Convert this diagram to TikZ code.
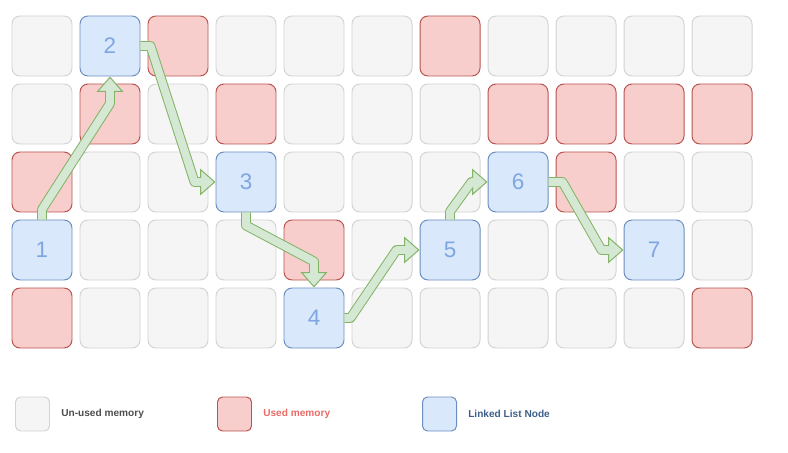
\documentclass[tikz,border=0pt]{standalone}
\usepackage{fontspec}
\setmainfont{Liberation Sans}
\def\cellsep{1.7}
\usepackage{tikz}
\usetikzlibrary{arrows.meta}
\usetikzlibrary{calc}
\usetikzlibrary{positioning}
\definecolor{freefill}{HTML}{F5F5F5}
\definecolor{freeline}{HTML}{D3D3D3}
\definecolor{usedfill}{HTML}{F8CECC}
\definecolor{usedline}{HTML}{B85450}
\definecolor{nodefill}{HTML}{DAE8FC}
\definecolor{nodeline}{HTML}{6C8EBF}
\definecolor{nodetext}{HTML}{7EA6E0}
\definecolor{linkfill}{HTML}{D5E8D4}
\definecolor{linkline}{HTML}{82B366}
\definecolor{freetext}{HTML}{4D4D4D}
\definecolor{usedtext}{HTML}{EA6B66}
\definecolor{listtext}{HTML}{3E5F8A}

\begin{document}
\begin{tikzpicture}[line width=0.7pt]
	\tikzstyle{cell}=[rectangle,rounded corners=0.2cm,minimum size=1.5cm,inner sep=0pt,draw=freeline,fill=freefill]
	\tikzstyle{used cell}=[cell,draw=usedline,fill=usedfill]
	\tikzstyle{list node}=[cell,draw=nodeline,fill=nodefill,text=nodetext,font=\fontsize{16}{19}\selectfont]
	\tikzstyle{key}=[cell,rounded corners=0.125cm,minimum size=0.85cm]
	\tikzstyle{key text}=[right=0.27cm of #1,inner sep=0pt,font=\fontsize{7.2}{9}\selectfont\bfseries]
	\tikzstyle{link}=[draw=linkline,line width=7pt,line join=round,
		-{Triangle[length=11pt,width=19pt,line width=0.7pt,fill=linkfill]},
		postaction={draw=linkfill,line width=5.6pt,-,shorten >=9pt}]
	
	\useasboundingbox (-1.05,1.15) rectangle (18.65,-10.175);
	
	% Draw the un-used memory cells
	\foreach \r / \cols in {0/{0,3,4,5,7,8,9,10},1/{0,2,4,5,6},2/{1,2,4,5,6,9,10},3/{1,2,3,5,7,8,10},4/{1,2,3,5,6,7,8,9}}
	\foreach \c in \cols
	\node[cell] (C-\c-\r) at (\c*\cellsep,-\r*\cellsep) {};
	
	% Draw the used memory cells
	\foreach \r / \cols in {0/{2,6},1/{1,3,7,8,9,10},2/{0,8},3/{4},4/{0,10}}
	\foreach \c in \cols
	\node[used cell] (U-\c-\r) at (\c*\cellsep,-\r*\cellsep) {};
	
	% Draw the linked list nodes
	\foreach \name / \c / \r in {1/0/3,2/1/0,3/3/2,4/4/4,5/6/3,6/7/2,7/9/3}
	\node[list node] (L-\name) at (\c*\cellsep,-\r*\cellsep) {\name};
	
	% Connect the list nodes
	\draw[link] (L-1.north) -- ++(0,0.25) -- ($(L-2.south)+(0,-0.675)$) -- (L-2.south);
	\draw[link] (L-2.east) -- ++(0.25,0) -- ($(L-3.west)+(-0.525,0)$) -- (L-3.west);
	\draw[link] (L-3.south) -- ++(0,-0.325) -- ($(L-4.north)+(0,0.65)$) -- (L-4.north);
	\draw[link] (L-4.east) -- ++(0.15,0) -- ($(L-5.west)+(-0.575,0)$) -- (L-5.west);
	\draw[link] (L-5.north) -- ++(0,0.2) -- ($(L-6.west)+(-0.4,0)$) -- (L-6.west);
	\draw[link] (L-6.east) -- ++(0.35,0) -- ($(L-7.west)+(-0.55,0)$) -- (L-7.west);
	
	% Draw the legend
	\node[key] (K-free) at (-0.2375,-9.2) {};
	\node[key,draw=usedline,fill=usedfill] (K-used) at (4.8125,-9.2) {};
	\node[key,draw=nodeline,fill=nodefill] (K-list) at (9.9375,-9.2) {};
	\node[key text=K-free,text=freetext] (T-free) {Un-used memory};
	\node[key text=K-used,text=usedtext] (T-used) {Used memory};
	\node[key text=K-list,text=listtext] (T-list) {Linked List Node};
	
\end{tikzpicture}
\end{document}
